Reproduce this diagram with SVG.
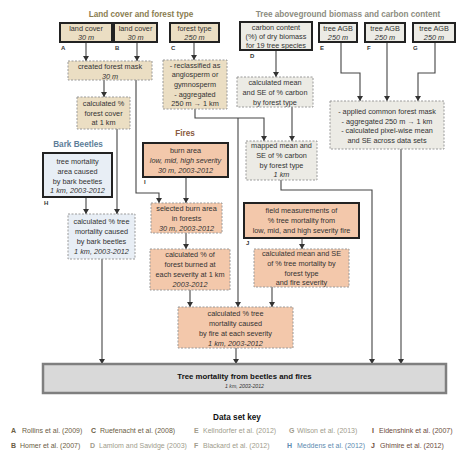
<svg xmlns="http://www.w3.org/2000/svg" width="474" height="474" viewBox="0 0 474 474">
<defs>
<marker id="arr" markerUnits="userSpaceOnUse" markerWidth="6" markerHeight="6" refX="5" refY="3" orient="auto">
<path d="M0,0 L5,3 L0,6 z" fill="#333"/>
</marker>
<style>
text{font-family:"Liberation Sans",Arial,sans-serif;font-size:7.3px;text-anchor:middle;fill:#333}
.it{font-style:italic}
.solid{stroke:#222;stroke-width:2}
.dash{stroke:#9a9a9a;stroke-width:1;stroke-dasharray:2,1.5}
.tan{fill:#ebdec3}
.gray{fill:#ecebe5}
.blue{fill:#e8eef5}
.sal{fill:#f3c8ab}
.ttl{font-weight:bold;font-size:8.2px}
.lbl{font-size:6px;font-weight:bold;text-anchor:start}
.key{font-size:7px;text-anchor:start}
.c{fill:none;stroke:#444;stroke-width:1.1}
</style>
</defs>
<rect width="474" height="474" fill="#fff"/>

<g id="titles">
<text class="ttl" x="141" y="17" style="fill:#8a7d50">Land cover and forest type</text>
<text class="ttl" x="348" y="17" style="fill:#8c8c80">Tree aboveground biomass and carbon content</text>
<text class="ttl" x="78" y="147" style="fill:#5d7e98">Bark Beetles</text>
<text class="ttl" x="185" y="136" style="fill:#8a5a40">Fires</text>
</g>

<g id="connectors">
<path class="c" d="M86,42 V61" marker-end="url(#arr)"/>
<path class="c" d="M137,42 V61" marker-end="url(#arr)"/>
<path class="c" d="M104,80 V97" marker-end="url(#arr)"/>
<path class="c" d="M117,129 V214" marker-end="url(#arr)"/>
<path class="c" d="M86,197 V214" marker-end="url(#arr)"/>
<path class="c" d="M136,80 V193 H159 V203" marker-end="url(#arr)"/>
<path class="c" d="M194,42 V60" marker-end="url(#arr)"/>
<path class="c" d="M195,109 V118 H264 V141" marker-end="url(#arr)"/>
<path class="c" d="M238,118 V307" marker-end="url(#arr)"/>
<path class="c" d="M276,50 V77" marker-end="url(#arr)"/>
<path class="c" d="M292,107 V141" marker-end="url(#arr)"/>
<path class="c" d="M341,42 V73 H360 V101" marker-end="url(#arr)"/>
<path class="c" d="M387,42 V101" marker-end="url(#arr)"/>
<path class="c" d="M435,42 V73 H418 V101" marker-end="url(#arr)"/>
<path class="c" d="M281,180 V190 H372 V364" marker-end="url(#arr)"/>
<path class="c" d="M401,149 V364" marker-end="url(#arr)"/>
<path class="c" d="M186,177 V203" marker-end="url(#arr)"/>
<path class="c" d="M186,233 V249" marker-end="url(#arr)"/>
<path class="c" d="M190,290 V307" marker-end="url(#arr)"/>
<path class="c" d="M302,238 V249" marker-end="url(#arr)"/>
<path class="c" d="M272,287 V307" marker-end="url(#arr)"/>
<path class="c" d="M236,348 V364" marker-end="url(#arr)"/>
<path class="c" d="M102,259 V364" marker-end="url(#arr)"/>
</g>

<g id="A">
<rect class="solid tan" x="60" y="23" width="52" height="19"/>
<text x="86" y="30.5">land cover</text>
<text class="it" x="86" y="39.5">30 m</text>
<text class="lbl" x="61" y="50">A</text>
</g>
<g id="B">
<rect class="solid tan" x="114" y="23" width="43" height="19"/>
<text x="135.5" y="30.5">land cover</text>
<text class="it" x="135.5" y="39.5">30 m</text>
<text class="lbl" x="115" y="50">B</text>
</g>
<g id="C">
<rect class="solid tan" x="170" y="23" width="49" height="19"/>
<text x="194.5" y="30.5">forest type</text>
<text class="it" x="194.5" y="39.5">250 m</text>
<text class="lbl" x="171" y="50">C</text>
</g>
<g id="D">
<rect class="solid gray" x="240" y="22" width="72" height="28"/>
<text x="276" y="29.5">carbon content</text>
<text x="276" y="38.5">(%) of dry biomass</text>
<text x="276" y="47.5">for 19 tree species</text>
<text class="lbl" x="250" y="58">D</text>
</g>
<g id="E">
<rect class="solid gray" x="319" y="23" width="38" height="19"/>
<text x="338" y="30.5">tree AGB</text>
<text class="it" x="338" y="39.5">250 m</text>
<text class="lbl" x="320" y="50">E</text>
</g>
<g id="F">
<rect class="solid gray" x="365" y="23" width="40" height="19"/>
<text x="385" y="30.5">tree AGB</text>
<text class="it" x="385" y="39.5">250 m</text>
<text class="lbl" x="367" y="50">F</text>
</g>
<g id="G">
<rect class="solid gray" x="413" y="23" width="42" height="19"/>
<text x="434" y="30.5">tree AGB</text>
<text class="it" x="434" y="39.5">250 m</text>
<text class="lbl" x="413" y="50">G</text>
</g>

<g id="forestMask">
<rect class="dash tan" x="68" y="61" width="84" height="19"/>
<text x="110" y="68.5">created forest mask</text>
<text class="it" x="110" y="78.5">30 m</text>
</g>
<g id="forestCover">
<rect class="dash tan" x="77" y="97" width="53" height="32"/>
<text x="103.5" y="105.5">calculated %</text>
<text x="103.5" y="115.5">forest cover</text>
<text x="103.5" y="125">at 1 km</text>
</g>
<g id="reclass">
<rect class="dash tan" x="163" y="60" width="64" height="49"/>
<text x="195" y="67.5">- reclassified as</text>
<text x="195" y="77">angiosperm or</text>
<text x="195" y="86.5">gymnosperm</text>
<text x="195" y="96.5">- aggregated</text>
<text x="195" y="106">250 m → 1 km</text>
</g>
<g id="carbonMean">
<rect class="dash gray" x="237" y="77" width="76" height="30"/>
<text x="275" y="84.5">calculated mean</text>
<text x="275" y="94.5">and SE of % carbon</text>
<text x="275" y="104.5">by forest type</text>
</g>
<g id="agbMask">
<rect class="dash gray" x="330" y="101" width="114" height="48"/>
<text x="387" y="113.5">- applied common forest mask</text>
<text x="387" y="123.5">- aggregated 250 m → 1 km</text>
<text x="387" y="133">- calculated pixel-wise mean</text>
<text x="387" y="142.5">and SE across data sets</text>
</g>
<g id="mapped">
<rect class="dash gray" x="246" y="141" width="71" height="39"/>
<text x="281.5" y="147.5">mapped mean and</text>
<text x="281.5" y="157.5">SE of % carbon</text>
<text x="281.5" y="167.5">by forest type</text>
<text class="it" x="281.5" y="177">1 km</text>
</g>

<g id="H">
<rect class="solid blue" x="43" y="153" width="69" height="44"/>
<text x="77.5" y="163.5">tree mortality</text>
<text x="77.5" y="173.5">area caused</text>
<text x="77.5" y="183.5">by bark beetles</text>
<text class="it" x="77.5" y="193">1 km, 2003-2012</text>
<text class="lbl" x="44" y="205">H</text>
</g>
<g id="beetleMort">
<rect class="dash blue" x="68" y="214" width="67" height="45"/>
<text x="101.5" y="223.5">calculated % tree</text>
<text x="101.5" y="233.5">mortality caused</text>
<text x="101.5" y="243.5">by bark beetles</text>
<text class="it" x="101.5" y="253.5">1 km, 2003-2012</text>
</g>

<g id="I">
<rect class="solid sal" x="143" y="143" width="85" height="34"/>
<text x="185.5" y="152.5">burn area</text>
<text class="it" x="185.5" y="162.5">low, mid, high severity</text>
<text class="it" x="185.5" y="172.5">30 m, 2003-2012</text>
<text class="lbl" x="144" y="184">I</text>
</g>
<g id="selBurn">
<rect class="dash sal" x="151" y="203" width="71" height="30"/>
<text x="186.5" y="210.5">selected burn area</text>
<text x="186.5" y="220.5">in  forests</text>
<text class="it" x="186.5" y="230.5">30 m, 2003-2012</text>
</g>
<g id="burned">
<rect class="dash sal" x="150" y="249" width="80" height="41"/>
<text x="190" y="256.5">calculated % of</text>
<text x="190" y="266.5">forest burned at</text>
<text x="190" y="276.5">each severity at 1 km</text>
<text class="it" x="190" y="286.5">2003-2012</text>
</g>
<g id="J">
<rect class="solid sal" x="244" y="203" width="115" height="35"/>
<text x="301.5" y="213">field measurements of</text>
<text x="301.5" y="222.5">% tree  mortality from</text>
<text x="301.5" y="232.5">low, mid, and high severity fire</text>
<text class="lbl" x="246" y="245">J</text>
</g>
<g id="meanSE">
<rect class="dash sal" x="254" y="249" width="95" height="38"/>
<text x="301.5" y="255.5">calculated mean and SE</text>
<text x="301.5" y="265.5">of % tree  mortality by</text>
<text x="301.5" y="275.5">forest type</text>
<text x="301.5" y="285">and fire severity</text>
</g>
<g id="fireMort">
<rect class="dash sal" x="178" y="307" width="115" height="41"/>
<text x="235.5" y="315.5">calculated % tree</text>
<text x="235.5" y="325.5">mortality caused</text>
<text x="235.5" y="335.5">by fire at each severity</text>
<text class="it" x="235.5" y="345.5">1 km, 2003-2012</text>
</g>

<g id="final">
<rect x="43" y="364" width="403" height="29" fill="#d9d9d9" stroke="#7f7f7f" stroke-width="2.5"/>
<text x="244.5" y="378.5" style="font-weight:bold;font-size:7.8px;fill:#111">Tree mortality from beetles and fires</text>
<text class="it" x="244.5" y="388" style="font-size:5.2px">1 km, 2003-2012</text>
</g>

<g id="key">
<text x="237" y="420" style="font-weight:bold;font-size:8.2px;fill:#111">Data set key</text>
<text class="key" x="11" y="433" style="fill:#6b5d44;font-weight:bold">A</text>
<text class="key" x="22" y="433" style="fill:#6b5d44">Rollins et al. (2009)</text>
<text class="key" x="91" y="433" style="fill:#6b5d44;font-weight:bold">C</text>
<text class="key" x="100" y="433" style="fill:#6b5d44">Ruefenacht et al. (2008)</text>
<text class="key" x="11" y="447.5" style="fill:#6b5d44;font-weight:bold">B</text>
<text class="key" x="20" y="447.5" style="fill:#6b5d44">Homer et al. (2007)</text>
<text class="key" x="90" y="447.5" style="fill:#a09c8c;font-weight:bold">D</text>
<text class="key" x="99" y="447.5" style="fill:#a09c8c">Lamlom and Savidge (2003)</text>
<text class="key" x="194" y="433" style="fill:#a09c8c;font-weight:bold">E</text>
<text class="key" x="203" y="433" style="fill:#a09c8c">Kellndorfer et al. (2012)</text>
<text class="key" x="194" y="447.5" style="fill:#a09c8c;font-weight:bold">F</text>
<text class="key" x="203" y="447.5" style="fill:#a09c8c">Blackard et al. (2012)</text>
<text class="key" x="289" y="433" style="fill:#a09c8c;font-weight:bold">G</text>
<text class="key" x="297" y="433" style="fill:#a09c8c">Wilson et al. (2013)</text>
<text class="key" x="287" y="447.5" style="fill:#5d8bb0;font-weight:bold">H</text>
<text class="key" x="297" y="447.5" style="fill:#5d8bb0">Meddens et al. (2012)</text>
<text class="key" x="372" y="433" style="fill:#6b4a3a;font-weight:bold">I</text>
<text class="key" x="379" y="433" style="fill:#6b4a3a">Eidenshink et al. (2007)</text>
<text class="key" x="371" y="447.5" style="fill:#6b4a3a;font-weight:bold">J</text>
<text class="key" x="380" y="447.5" style="fill:#6b4a3a">Ghimire et al. (2012)</text>
</g>
</svg>
